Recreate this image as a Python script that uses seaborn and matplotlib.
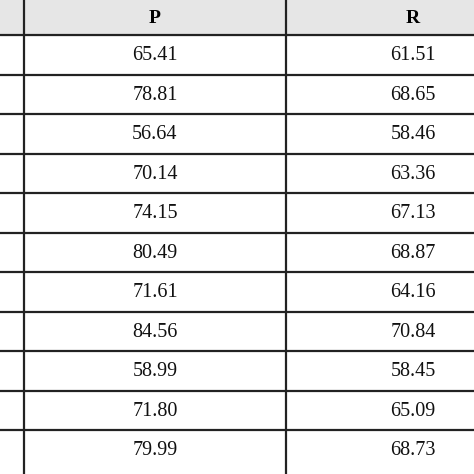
import matplotlib
matplotlib.use("Agg")
import matplotlib.pyplot as plt
import seaborn as sns

sns.set_style("white")
plt.rcParams['font.family'] = ['Liberation Serif', 'DejaVu Serif']

headers = ["P", "R"]
p_values = ["65.41", "78.81", "56.64", "70.14", "74.15", "80.49", "71.61", "84.56", "58.99", "71.80", "79.99"]
r_values = ["61.51", "68.65", "58.46", "63.36", "67.13", "68.87", "64.16", "70.84", "58.45", "65.09", "68.73"]

W = H = 474
fig = plt.figure(figsize=(W/100, H/100), dpi=100)
ax = fig.add_axes([0, 0, 1, 1])
ax.set_xlim(0, W)
ax.set_ylim(H, 0)
ax.axis('off')

header_bottom = 35
row_h = 39.5
ax.axhspan(0, header_bottom, color='#e6e6e6', zorder=0)
cols = [24, 286]
centers = [155, 413]
for x in cols:
    ax.plot([x, x], [0, H], color='#222222', lw=1.6)
ax.plot([0, W], [header_bottom, header_bottom], color='#222222', lw=1.6)
for i in range(len(p_values) - 1):
    y = header_bottom + (i + 1) * row_h
    ax.plot([0, W], [y, y], color='#222222', lw=1.6)

for c, h in zip(centers, headers):
    ax.text(c, header_bottom / 2 + 1, h, ha='center', va='center', fontsize=14, fontweight='bold', color='black')
for i, (p, r) in enumerate(zip(p_values, r_values)):
    yc = header_bottom + i * row_h + row_h / 2 + 1
    ax.text(centers[0], yc, p, ha='center', va='center', fontsize=14.5, color='#111111')
    ax.text(centers[1], yc, r, ha='center', va='center', fontsize=14.5, color='#111111')

fig.savefig("out.png", dpi=100)
